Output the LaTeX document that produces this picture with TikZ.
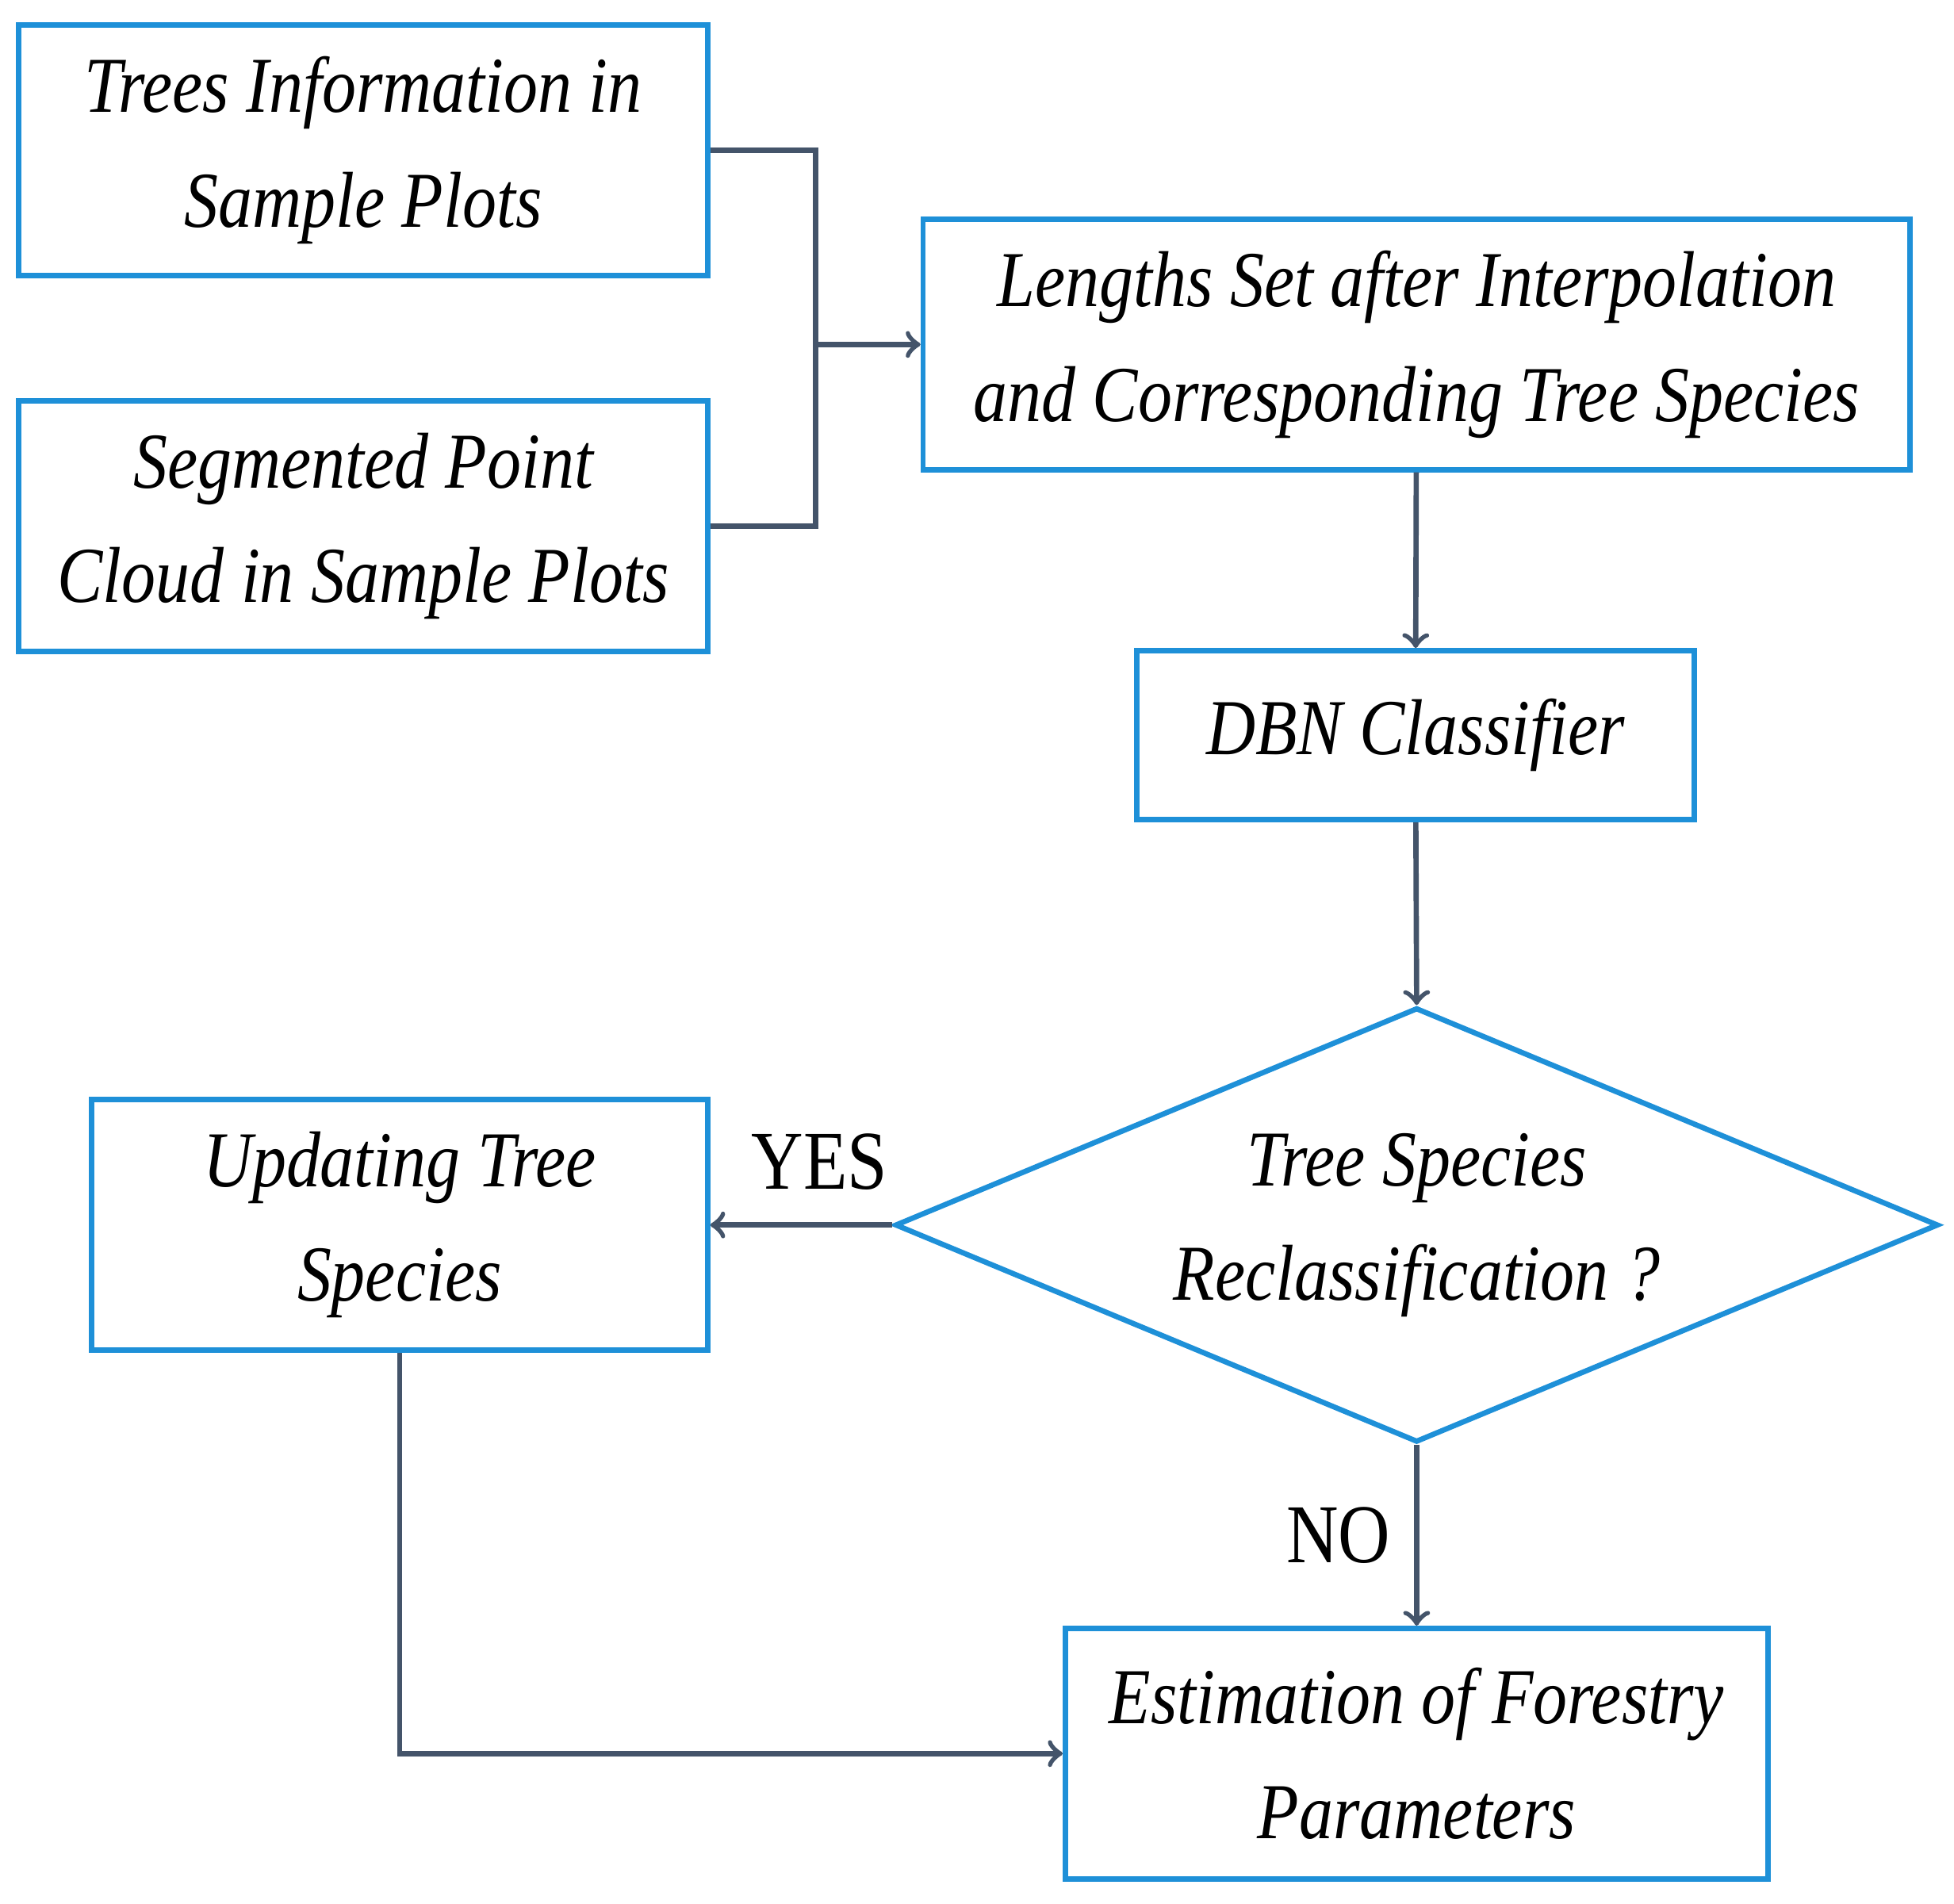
\documentclass[tikz,border=0pt]{standalone}
\usepackage{fontspec}
\setmainfont{Liberation Serif}[FakeStretch=0.86]
\usetikzlibrary{arrows}
\usetikzlibrary{positioning}
\usetikzlibrary{shapes.geometric}
\definecolor{boxblue}{RGB}{30,144,216}
\definecolor{linegray}{RGB}{68,84,106}

\begin{document}
\begin{tikzpicture}
  \tikzset{vertex/.style = {shape=rectangle,draw=boxblue,line width=1.2pt,align=center,
      font=\fontsize{18}{26}\selectfont\itshape,minimum height=2cm,inner sep=0pt}}
  \tikzset{decision/.style = {shape=diamond,draw=boxblue,line width=1.2pt,align=center,
      font=\fontsize{18}{26}\selectfont\itshape,minimum width=8.33cm,minimum height=3.47cm,
      inner sep=0pt,aspect=2.4}}
  \tikzset{edge/.style = {->,> = to,draw=linegray,line width=1.2pt}}
  \tikzset{answer/.style = {font=\fontsize{19}{22}\selectfont}}

  \useasboundingbox (0,0) rectangle (15.6,15.2);

  \node[vertex, minimum width=5.5cm] (trees) at (2.9,14) {Trees Information in\\Sample Plots};
  \node[vertex, minimum width=5.5cm] (cloud) at (2.9,11) {Segmented Point\\Cloud in Sample Plots};

  \node[vertex, minimum width=7.88cm] (lengths) at (11.31,12.45)
  {Lengths Set after Interpolation\\and Corresponding Tree Species};
  \node[vertex, minimum width=4.45cm, minimum height=1.35cm] (dbn) at (11.3,9.33) {DBN Classifier};

  \node[decision] (reclass) at (11.31,5.42) {Tree Species\\Reclassification ?};
  \node[vertex, minimum width=4.92cm] (update) at (3.19,5.42) {Updating Tree\\Species};
  \node[vertex, minimum width=5.61cm] (estim) at (11.31,1.2) {Estimation of Forestry\\Parameters};

  \coordinate (join) at (6.51,12.45);
  \coordinate (corner) at (3.19,1.2);

  \draw[draw=linegray, line width=1.2pt] (trees.east) -| (join) |- (cloud.east);
  \draw[edge] (join) to (lengths.west);

  \draw[edge] (lengths) to (dbn);
  \draw[edge] (dbn) to (reclass.north);
  \draw[edge] (reclass.west) to node[answer, above=4pt, pos=0.4] {YES} (update.east);
  \draw[edge] (reclass.south) to node[answer, left=2pt, pos=0.5] {NO} (estim.north);
  \draw[edge] (update.south) -- (corner) -- (estim.west);
\end{tikzpicture}
\end{document}
